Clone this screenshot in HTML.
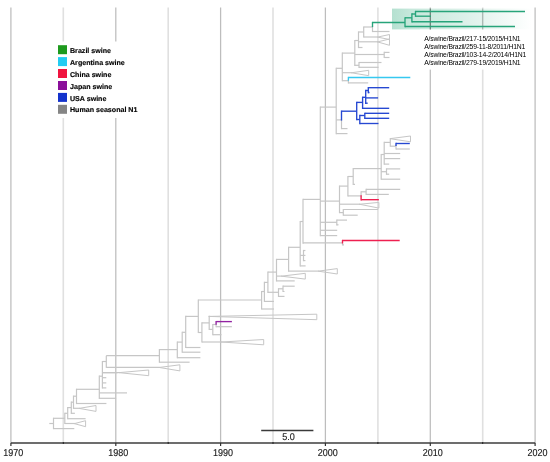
<!DOCTYPE html>
<html><head><meta charset="utf-8"><style>
html,body{margin:0;padding:0;background:#fff;}
svg{display:block;}
text{font-family:"Liberation Sans",Arial,sans-serif;text-rendering:geometricPrecision;}
</style></head><body>
<svg width="550" height="462" viewBox="0 0 550 462">
<defs><linearGradient id="hl" x1="0" x2="1" y1="0" y2="0">
<stop offset="0" stop-color="#2aa87a" stop-opacity="0.35"/><stop offset="0.13" stop-color="#2aa87a" stop-opacity="0.27"/><stop offset="0.5" stop-color="#2aa87a" stop-opacity="0.17"/><stop offset="1" stop-color="#2aa87a" stop-opacity="0"/></linearGradient></defs>
<rect width="550" height="462" fill="#fff"/>
<line x1="10.9" y1="7.5" x2="10.9" y2="443" stroke="#bdbdbd" stroke-width="1.25"/>
<line x1="63.3" y1="7.5" x2="63.3" y2="443" stroke="#e0e0e0" stroke-width="1.6"/>
<line x1="115.8" y1="7.5" x2="115.8" y2="443" stroke="#bdbdbd" stroke-width="1.25"/>
<line x1="168.2" y1="7.5" x2="168.2" y2="443" stroke="#e0e0e0" stroke-width="1.6"/>
<line x1="220.6" y1="7.5" x2="220.6" y2="443" stroke="#bdbdbd" stroke-width="1.25"/>
<line x1="273.0" y1="7.5" x2="273.0" y2="443" stroke="#e0e0e0" stroke-width="1.6"/>
<line x1="325.4" y1="7.5" x2="325.4" y2="443" stroke="#bdbdbd" stroke-width="1.25"/>
<line x1="377.9" y1="7.5" x2="377.9" y2="443" stroke="#e0e0e0" stroke-width="1.6"/>
<line x1="430.3" y1="7.5" x2="430.3" y2="443" stroke="#bdbdbd" stroke-width="1.25"/>
<line x1="482.7" y1="7.5" x2="482.7" y2="443" stroke="#e0e0e0" stroke-width="1.6"/>
<line x1="535.1" y1="7.5" x2="535.1" y2="443" stroke="#bdbdbd" stroke-width="1.25"/>
<rect x="392" y="8.6" width="140" height="20.8" fill="url(#hl)"/>
<rect x="420" y="29.6" width="111" height="40" fill="#fff"/>
<line x1="430.3" y1="8.6" x2="430.3" y2="29.4" stroke="#5f6f68" stroke-width="1" opacity="0.85"/>
<line x1="482.7" y1="8.6" x2="482.7" y2="29.4" stroke="#5f6f68" stroke-width="1" opacity="0.35"/>
<rect x="55" y="41.5" width="85" height="76.5" fill="#fff"/>
<g fill="none" stroke-linecap="square">
<line x1="49.3" y1="423.5" x2="53.5" y2="423.5" stroke="#c6c6c6" stroke-width="1.2" stroke-linecap="butt"/>
<line x1="53.5" y1="418.3" x2="53.5" y2="428.6" stroke="#c6c6c6" stroke-width="1.2"/>
<line x1="53.5" y1="428.6" x2="74.3" y2="428.6" stroke="#c6c6c6" stroke-width="1.2" stroke-linecap="butt"/>
<line x1="53.5" y1="418.3" x2="64.8" y2="418.3" stroke="#c6c6c6" stroke-width="1.2" stroke-linecap="butt"/>
<line x1="64.8" y1="413.3" x2="64.8" y2="423.5" stroke="#c6c6c6" stroke-width="1.2"/>
<line x1="64.8" y1="423.5" x2="74.9" y2="423.5" stroke="#c6c6c6" stroke-width="1.2" stroke-linecap="butt"/>
<polygon points="74.9,423.5 85.6,420.7 85.6,426.2" fill="none" stroke="#c6c6c6" stroke-width="1"/>
<line x1="64.8" y1="413.3" x2="67.7" y2="413.3" stroke="#c6c6c6" stroke-width="1.2" stroke-linecap="butt"/>
<line x1="67.7" y1="407.6" x2="67.7" y2="418.7" stroke="#c6c6c6" stroke-width="1.2"/>
<line x1="67.7" y1="418.7" x2="85.6" y2="418.7" stroke="#c6c6c6" stroke-width="1.2" stroke-linecap="butt"/>
<line x1="67.7" y1="407.6" x2="71.3" y2="407.6" stroke="#c6c6c6" stroke-width="1.2" stroke-linecap="butt"/>
<line x1="71.3" y1="402.2" x2="71.3" y2="413.3" stroke="#c6c6c6" stroke-width="1.2"/>
<line x1="71.3" y1="413.3" x2="74.9" y2="413.3" stroke="#c6c6c6" stroke-width="1.2" stroke-linecap="butt"/>
<line x1="71.3" y1="402.2" x2="73.5" y2="402.2" stroke="#c6c6c6" stroke-width="1.2" stroke-linecap="butt"/>
<line x1="73.5" y1="396.2" x2="73.5" y2="408.3" stroke="#c6c6c6" stroke-width="1.2"/>
<line x1="73.5" y1="408.3" x2="79.7" y2="408.3" stroke="#c6c6c6" stroke-width="1.2" stroke-linecap="butt"/>
<polygon points="79.7,408.3 96.0,405.5 96.0,410.9" fill="none" stroke="#c6c6c6" stroke-width="1"/>
<line x1="73.5" y1="396.2" x2="76.5" y2="396.2" stroke="#c6c6c6" stroke-width="1.2" stroke-linecap="butt"/>
<line x1="76.5" y1="389.3" x2="76.5" y2="403.5" stroke="#c6c6c6" stroke-width="1.2"/>
<line x1="76.5" y1="403.5" x2="106.4" y2="403.5" stroke="#c6c6c6" stroke-width="1.2" stroke-linecap="butt"/>
<line x1="76.5" y1="389.3" x2="99.3" y2="389.3" stroke="#c6c6c6" stroke-width="1.2" stroke-linecap="butt"/>
<line x1="99.3" y1="376.2" x2="99.3" y2="398.3" stroke="#c6c6c6" stroke-width="1.2"/>
<line x1="99.3" y1="398.3" x2="116.1" y2="398.3" stroke="#c6c6c6" stroke-width="1.2" stroke-linecap="butt"/>
<line x1="99.3" y1="392.9" x2="127.0" y2="392.9" stroke="#c6c6c6" stroke-width="1.2" stroke-linecap="butt"/>
<line x1="99.3" y1="376.2" x2="102.4" y2="376.2" stroke="#c6c6c6" stroke-width="1.2" stroke-linecap="butt"/>
<line x1="102.4" y1="361.5" x2="102.4" y2="387.9" stroke="#c6c6c6" stroke-width="1.2"/>
<line x1="102.4" y1="361.5" x2="106.3" y2="361.5" stroke="#c6c6c6" stroke-width="1.2" stroke-linecap="butt"/>
<line x1="106.3" y1="356.3" x2="106.3" y2="367.1" stroke="#c6c6c6" stroke-width="1.2"/>
<line x1="102.4" y1="377.7" x2="106.3" y2="377.7" stroke="#c6c6c6" stroke-width="1.2" stroke-linecap="butt"/>
<line x1="102.4" y1="382.9" x2="106.3" y2="382.9" stroke="#c6c6c6" stroke-width="1.2" stroke-linecap="butt"/>
<line x1="102.4" y1="387.9" x2="106.3" y2="387.9" stroke="#c6c6c6" stroke-width="1.2" stroke-linecap="butt"/>
<line x1="102.4" y1="372.7" x2="117.5" y2="372.7" stroke="#c6c6c6" stroke-width="1.2" stroke-linecap="butt"/>
<line x1="106.2" y1="355.7" x2="159.4" y2="355.7" stroke="#c6c6c6" stroke-width="1.2" stroke-linecap="butt"/>
<line x1="106.2" y1="367.4" x2="159.7" y2="367.4" stroke="#c6c6c6" stroke-width="1.2" stroke-linecap="butt"/>
<polygon points="159.7,367.4 179.9,364.8 179.9,370.4" fill="none" stroke="#c6c6c6" stroke-width="1"/>
<line x1="102.4" y1="372.6" x2="119.5" y2="372.6" stroke="#c6c6c6" stroke-width="1.2" stroke-linecap="butt"/>
<polygon points="119.5,372.6 148.7,370.0 148.7,375.2" fill="none" stroke="#c6c6c6" stroke-width="1"/>
<line x1="159.4" y1="349.6" x2="159.4" y2="362.2" stroke="#c6c6c6" stroke-width="1.2"/>
<line x1="159.4" y1="362.2" x2="189.6" y2="362.2" stroke="#c6c6c6" stroke-width="1.2" stroke-linecap="butt"/>
<line x1="159.4" y1="349.6" x2="177.3" y2="349.6" stroke="#c6c6c6" stroke-width="1.2" stroke-linecap="butt"/>
<line x1="177.3" y1="342.1" x2="177.3" y2="357.7" stroke="#c6c6c6" stroke-width="1.2"/>
<line x1="177.3" y1="357.7" x2="200.4" y2="357.7" stroke="#c6c6c6" stroke-width="1.2" stroke-linecap="butt"/>
<line x1="177.3" y1="342.1" x2="182.2" y2="342.1" stroke="#c6c6c6" stroke-width="1.2" stroke-linecap="butt"/>
<line x1="182.2" y1="332.3" x2="182.2" y2="352.2" stroke="#c6c6c6" stroke-width="1.2"/>
<line x1="182.2" y1="352.2" x2="200.4" y2="352.2" stroke="#c6c6c6" stroke-width="1.2" stroke-linecap="butt"/>
<line x1="182.2" y1="332.3" x2="185.7" y2="332.3" stroke="#c6c6c6" stroke-width="1.2" stroke-linecap="butt"/>
<line x1="185.7" y1="316.4" x2="185.7" y2="347.5" stroke="#c6c6c6" stroke-width="1.2"/>
<line x1="185.7" y1="347.5" x2="200.4" y2="347.5" stroke="#c6c6c6" stroke-width="1.2" stroke-linecap="butt"/>
<line x1="185.7" y1="316.4" x2="198.3" y2="316.4" stroke="#c6c6c6" stroke-width="1.2" stroke-linecap="butt"/>
<line x1="198.3" y1="300.0" x2="198.3" y2="332.5" stroke="#c6c6c6" stroke-width="1.2"/>
<line x1="198.3" y1="300.0" x2="261.8" y2="300.0" stroke="#c6c6c6" stroke-width="1.2" stroke-linecap="butt"/>
<line x1="198.3" y1="332.5" x2="201.9" y2="332.5" stroke="#c6c6c6" stroke-width="1.2" stroke-linecap="butt"/>
<line x1="201.9" y1="322.9" x2="201.9" y2="342.0" stroke="#c6c6c6" stroke-width="1.2"/>
<line x1="201.9" y1="342.0" x2="222.0" y2="342.0" stroke="#c6c6c6" stroke-width="1.2" stroke-linecap="butt"/>
<polygon points="222.0,342.0 263.7,339.5 263.7,344.3" fill="none" stroke="#c6c6c6" stroke-width="1"/>
<line x1="201.9" y1="322.9" x2="209.2" y2="322.9" stroke="#c6c6c6" stroke-width="1.2" stroke-linecap="butt"/>
<line x1="209.2" y1="316.4" x2="209.2" y2="329.4" stroke="#c6c6c6" stroke-width="1.2"/>
<polygon points="209.2,316.4 316.8,314.2 316.8,319.2" fill="none" stroke="#c6c6c6" stroke-width="1"/>
<line x1="209.2" y1="329.4" x2="212.8" y2="329.4" stroke="#c6c6c6" stroke-width="1.2" stroke-linecap="butt"/>
<line x1="212.8" y1="324.5" x2="212.8" y2="334.7" stroke="#c6c6c6" stroke-width="1.2"/>
<line x1="212.8" y1="334.7" x2="221.5" y2="334.7" stroke="#c6c6c6" stroke-width="1.2" stroke-linecap="butt"/>
<line x1="212.8" y1="324.5" x2="216.1" y2="324.5" stroke="#c6c6c6" stroke-width="1.2" stroke-linecap="butt"/>
<line x1="216.1" y1="324.0" x2="216.1" y2="326.7" stroke="#c6c6c6" stroke-width="1.2"/>
<line x1="216.1" y1="326.7" x2="231.9" y2="326.7" stroke="#c6c6c6" stroke-width="1.2" stroke-linecap="butt"/>
<line x1="261.6" y1="291.5" x2="261.6" y2="309.0" stroke="#c6c6c6" stroke-width="1.2"/>
<line x1="261.6" y1="309.0" x2="273.9" y2="309.0" stroke="#c6c6c6" stroke-width="1.2" stroke-linecap="butt"/>
<line x1="261.6" y1="291.5" x2="264.4" y2="291.5" stroke="#c6c6c6" stroke-width="1.2" stroke-linecap="butt"/>
<line x1="264.4" y1="282.4" x2="264.4" y2="301.4" stroke="#c6c6c6" stroke-width="1.2"/>
<line x1="264.4" y1="301.4" x2="273.9" y2="301.4" stroke="#c6c6c6" stroke-width="1.2" stroke-linecap="butt"/>
<line x1="264.4" y1="282.4" x2="267.9" y2="282.4" stroke="#c6c6c6" stroke-width="1.2" stroke-linecap="butt"/>
<line x1="267.9" y1="272.1" x2="267.9" y2="292.3" stroke="#c6c6c6" stroke-width="1.2"/>
<line x1="267.9" y1="292.3" x2="278.5" y2="292.3" stroke="#c6c6c6" stroke-width="1.2" stroke-linecap="butt"/>
<line x1="278.5" y1="288.8" x2="278.5" y2="296.4" stroke="#c6c6c6" stroke-width="1.2"/>
<line x1="278.5" y1="296.4" x2="284.5" y2="296.4" stroke="#c6c6c6" stroke-width="1.2" stroke-linecap="butt"/>
<line x1="278.5" y1="288.8" x2="283.0" y2="288.8" stroke="#c6c6c6" stroke-width="1.2" stroke-linecap="butt"/>
<line x1="283.0" y1="286.2" x2="283.0" y2="291.5" stroke="#c6c6c6" stroke-width="1.2"/>
<line x1="283.0" y1="286.2" x2="294.7" y2="286.2" stroke="#c6c6c6" stroke-width="1.2" stroke-linecap="butt"/>
<line x1="283.0" y1="291.5" x2="284.5" y2="291.5" stroke="#c6c6c6" stroke-width="1.2" stroke-linecap="butt"/>
<line x1="267.9" y1="272.1" x2="276.5" y2="272.1" stroke="#c6c6c6" stroke-width="1.2" stroke-linecap="butt"/>
<line x1="276.5" y1="259.4" x2="276.5" y2="280.9" stroke="#c6c6c6" stroke-width="1.2"/>
<line x1="276.5" y1="280.9" x2="294.7" y2="280.9" stroke="#c6c6c6" stroke-width="1.2" stroke-linecap="butt"/>
<line x1="276.5" y1="276.1" x2="282.0" y2="276.1" stroke="#c6c6c6" stroke-width="1.2" stroke-linecap="butt"/>
<polygon points="282.0,276.1 305.3,273.3 305.3,278.6" fill="none" stroke="#c6c6c6" stroke-width="1"/>
<line x1="276.5" y1="259.4" x2="288.6" y2="259.4" stroke="#c6c6c6" stroke-width="1.2" stroke-linecap="butt"/>
<line x1="288.6" y1="247.3" x2="288.6" y2="271.1" stroke="#c6c6c6" stroke-width="1.2"/>
<line x1="288.6" y1="247.3" x2="300.2" y2="247.3" stroke="#c6c6c6" stroke-width="1.2" stroke-linecap="butt"/>
<line x1="300.2" y1="265.9" x2="305.6" y2="265.9" stroke="#c6c6c6" stroke-width="1.2" stroke-linecap="butt"/>
<line x1="300.2" y1="255.4" x2="303.5" y2="255.4" stroke="#c6c6c6" stroke-width="1.2" stroke-linecap="butt"/>
<line x1="303.5" y1="250.5" x2="303.5" y2="260.6" stroke="#c6c6c6" stroke-width="1.2"/>
<line x1="303.5" y1="250.5" x2="305.4" y2="250.5" stroke="#c6c6c6" stroke-width="1.2" stroke-linecap="butt"/>
<line x1="303.5" y1="255.4" x2="305.4" y2="255.4" stroke="#c6c6c6" stroke-width="1.2" stroke-linecap="butt"/>
<line x1="303.5" y1="260.6" x2="305.4" y2="260.6" stroke="#c6c6c6" stroke-width="1.2" stroke-linecap="butt"/>
<line x1="288.6" y1="271.1" x2="318.8" y2="271.1" stroke="#c6c6c6" stroke-width="1.2" stroke-linecap="butt"/>
<polygon points="318.8,271.1 337.3,268.6 337.3,273.5" fill="none" stroke="#c6c6c6" stroke-width="1"/>
<line x1="300.2" y1="221.5" x2="300.2" y2="265.9" stroke="#c6c6c6" stroke-width="1.2"/>
<line x1="300.2" y1="221.5" x2="303.0" y2="221.5" stroke="#c6c6c6" stroke-width="1.2" stroke-linecap="butt"/>
<line x1="303.0" y1="199.4" x2="303.0" y2="243.1" stroke="#c6c6c6" stroke-width="1.2"/>
<line x1="303.0" y1="242.8" x2="342.5" y2="242.8" stroke="#c6c6c6" stroke-width="1.2" stroke-linecap="butt"/>
<line x1="303.0" y1="199.4" x2="320.3" y2="199.4" stroke="#c6c6c6" stroke-width="1.2" stroke-linecap="butt"/>
<line x1="320.3" y1="235.6" x2="337.2" y2="235.6" stroke="#c6c6c6" stroke-width="1.2" stroke-linecap="butt"/>
<line x1="320.3" y1="230.3" x2="337.2" y2="230.3" stroke="#c6c6c6" stroke-width="1.2" stroke-linecap="butt"/>
<line x1="320.3" y1="222.3" x2="336.8" y2="222.3" stroke="#c6c6c6" stroke-width="1.2" stroke-linecap="butt"/>
<line x1="336.8" y1="220.1" x2="336.8" y2="224.8" stroke="#c6c6c6" stroke-width="1.2"/>
<line x1="336.8" y1="220.1" x2="347.0" y2="220.1" stroke="#c6c6c6" stroke-width="1.2" stroke-linecap="butt"/>
<line x1="336.8" y1="224.8" x2="338.5" y2="224.8" stroke="#c6c6c6" stroke-width="1.2" stroke-linecap="butt"/>
<line x1="320.3" y1="201.1" x2="339.6" y2="201.1" stroke="#c6c6c6" stroke-width="1.2" stroke-linecap="butt"/>
<line x1="339.5" y1="186.1" x2="339.5" y2="212.6" stroke="#c6c6c6" stroke-width="1.2"/>
<line x1="339.5" y1="212.6" x2="343.3" y2="212.6" stroke="#c6c6c6" stroke-width="1.2" stroke-linecap="butt"/>
<line x1="343.3" y1="209.5" x2="343.3" y2="215.2" stroke="#c6c6c6" stroke-width="1.2"/>
<line x1="343.3" y1="209.5" x2="378.2" y2="209.5" stroke="#c6c6c6" stroke-width="1.2" stroke-linecap="butt"/>
<line x1="343.3" y1="215.2" x2="357.7" y2="215.2" stroke="#c6c6c6" stroke-width="1.2" stroke-linecap="butt"/>
<line x1="339.5" y1="204.2" x2="360.0" y2="204.2" stroke="#c6c6c6" stroke-width="1.2" stroke-linecap="butt"/>
<polygon points="360.0,204.2 378.9,202.4 378.9,207.6" fill="none" stroke="#c6c6c6" stroke-width="1"/>
<line x1="339.5" y1="186.1" x2="347.9" y2="186.1" stroke="#c6c6c6" stroke-width="1.2" stroke-linecap="butt"/>
<line x1="347.9" y1="176.5" x2="347.9" y2="195.9" stroke="#c6c6c6" stroke-width="1.2"/>
<line x1="347.9" y1="195.9" x2="361.1" y2="195.9" stroke="#c6c6c6" stroke-width="1.2" stroke-linecap="butt"/>
<line x1="361.1" y1="191.8" x2="361.1" y2="195.9" stroke="#c6c6c6" stroke-width="1.2"/>
<line x1="361.1" y1="191.8" x2="366.1" y2="191.8" stroke="#c6c6c6" stroke-width="1.2" stroke-linecap="butt"/>
<line x1="366.1" y1="189.4" x2="366.1" y2="194.4" stroke="#c6c6c6" stroke-width="1.2"/>
<line x1="366.1" y1="189.4" x2="400.2" y2="189.4" stroke="#c6c6c6" stroke-width="1.2" stroke-linecap="butt"/>
<line x1="366.1" y1="194.4" x2="388.8" y2="194.4" stroke="#c6c6c6" stroke-width="1.2" stroke-linecap="butt"/>
<line x1="342.5" y1="242.8" x2="342.5" y2="244.8" stroke="#c6c6c6" stroke-width="1.2"/>
<line x1="342.5" y1="244.8" x2="344.0" y2="244.8" stroke="#c6c6c6" stroke-width="1.2" stroke-linecap="butt"/>
<line x1="347.9" y1="176.5" x2="353.2" y2="176.5" stroke="#c6c6c6" stroke-width="1.2" stroke-linecap="butt"/>
<line x1="353.2" y1="168.6" x2="353.2" y2="184.4" stroke="#c6c6c6" stroke-width="1.2"/>
<line x1="353.2" y1="184.4" x2="355.0" y2="184.4" stroke="#c6c6c6" stroke-width="1.2" stroke-linecap="butt"/>
<line x1="353.2" y1="168.6" x2="381.2" y2="168.6" stroke="#c6c6c6" stroke-width="1.2" stroke-linecap="butt"/>
<line x1="381.2" y1="154.5" x2="381.2" y2="179.2" stroke="#c6c6c6" stroke-width="1.2"/>
<line x1="381.2" y1="179.2" x2="400.2" y2="179.2" stroke="#c6c6c6" stroke-width="1.2" stroke-linecap="butt"/>
<line x1="381.2" y1="171.7" x2="386.5" y2="171.7" stroke="#c6c6c6" stroke-width="1.2" stroke-linecap="butt"/>
<line x1="386.5" y1="168.9" x2="386.5" y2="174.2" stroke="#c6c6c6" stroke-width="1.2"/>
<line x1="386.5" y1="168.9" x2="400.2" y2="168.9" stroke="#c6c6c6" stroke-width="1.2" stroke-linecap="butt"/>
<line x1="386.5" y1="174.2" x2="389.2" y2="174.2" stroke="#c6c6c6" stroke-width="1.2" stroke-linecap="butt"/>
<line x1="381.2" y1="154.5" x2="384.2" y2="154.5" stroke="#c6c6c6" stroke-width="1.2" stroke-linecap="butt"/>
<line x1="384.2" y1="142.4" x2="384.2" y2="164.1" stroke="#c6c6c6" stroke-width="1.2"/>
<line x1="384.2" y1="164.1" x2="389.2" y2="164.1" stroke="#c6c6c6" stroke-width="1.2" stroke-linecap="butt"/>
<line x1="384.2" y1="158.6" x2="400.2" y2="158.6" stroke="#c6c6c6" stroke-width="1.2" stroke-linecap="butt"/>
<line x1="384.2" y1="153.5" x2="400.2" y2="153.5" stroke="#c6c6c6" stroke-width="1.2" stroke-linecap="butt"/>
<line x1="384.2" y1="142.4" x2="390.3" y2="142.4" stroke="#c6c6c6" stroke-width="1.2" stroke-linecap="butt"/>
<line x1="390.3" y1="138.6" x2="390.3" y2="146.2" stroke="#c6c6c6" stroke-width="1.2"/>
<polygon points="390.5,138.6 410.5,136.0 410.5,141.3" fill="none" stroke="#c6c6c6" stroke-width="1"/>
<line x1="390.3" y1="146.2" x2="396.0" y2="146.2" stroke="#c6c6c6" stroke-width="1.2" stroke-linecap="butt"/>
<line x1="396.0" y1="145.2" x2="396.0" y2="149.0" stroke="#c6c6c6" stroke-width="1.2"/>
<line x1="396.0" y1="149.0" x2="409.8" y2="149.0" stroke="#c6c6c6" stroke-width="1.2" stroke-linecap="butt"/>
<line x1="320.3" y1="107.1" x2="320.3" y2="235.6" stroke="#c6c6c6" stroke-width="1.2"/>
<line x1="320.3" y1="107.1" x2="336.2" y2="107.1" stroke="#c6c6c6" stroke-width="1.2" stroke-linecap="butt"/>
<line x1="336.2" y1="68.3" x2="336.2" y2="133.6" stroke="#c6c6c6" stroke-width="1.2"/>
<line x1="336.2" y1="133.6" x2="347.5" y2="133.6" stroke="#c6c6c6" stroke-width="1.2" stroke-linecap="butt"/>
<line x1="336.2" y1="68.3" x2="342.1" y2="68.3" stroke="#c6c6c6" stroke-width="1.2" stroke-linecap="butt"/>
<line x1="336.2" y1="119.9" x2="341.5" y2="119.9" stroke="#c6c6c6" stroke-width="1.2" stroke-linecap="butt"/>
<line x1="341.5" y1="119.9" x2="341.5" y2="128.6" stroke="#c6c6c6" stroke-width="1.2"/>
<line x1="341.5" y1="128.6" x2="347.5" y2="128.6" stroke="#c6c6c6" stroke-width="1.2" stroke-linecap="butt"/>
<line x1="342.3" y1="53.1" x2="342.3" y2="80.7" stroke="#c6c6c6" stroke-width="1.2"/>
<line x1="342.3" y1="53.1" x2="354.8" y2="53.1" stroke="#c6c6c6" stroke-width="1.2" stroke-linecap="butt"/>
<line x1="354.8" y1="40.5" x2="354.8" y2="65.3" stroke="#c6c6c6" stroke-width="1.2"/>
<line x1="354.8" y1="40.5" x2="358.5" y2="40.5" stroke="#c6c6c6" stroke-width="1.2" stroke-linecap="butt"/>
<line x1="354.8" y1="54.5" x2="384.2" y2="54.5" stroke="#c6c6c6" stroke-width="1.2" stroke-linecap="butt"/>
<line x1="384.2" y1="52.4" x2="384.2" y2="57.5" stroke="#c6c6c6" stroke-width="1.2"/>
<line x1="384.2" y1="52.4" x2="389.5" y2="52.4" stroke="#c6c6c6" stroke-width="1.2" stroke-linecap="butt"/>
<line x1="384.2" y1="57.5" x2="389.5" y2="57.5" stroke="#c6c6c6" stroke-width="1.2" stroke-linecap="butt"/>
<line x1="354.8" y1="65.3" x2="359.0" y2="65.3" stroke="#c6c6c6" stroke-width="1.2" stroke-linecap="butt"/>
<line x1="359.0" y1="62.5" x2="359.0" y2="67.3" stroke="#c6c6c6" stroke-width="1.2"/>
<line x1="359.0" y1="62.5" x2="381.5" y2="62.5" stroke="#c6c6c6" stroke-width="1.2" stroke-linecap="butt"/>
<line x1="359.0" y1="67.3" x2="378.6" y2="67.3" stroke="#c6c6c6" stroke-width="1.2" stroke-linecap="butt"/>
<line x1="342.3" y1="72.7" x2="352.0" y2="72.7" stroke="#c6c6c6" stroke-width="1.2" stroke-linecap="butt"/>
<polygon points="352.0,72.7 368.7,70.3 368.7,75.2" fill="none" stroke="#c6c6c6" stroke-width="1"/>
<line x1="342.3" y1="80.7" x2="348.4" y2="80.7" stroke="#c6c6c6" stroke-width="1.2" stroke-linecap="butt"/>
<line x1="348.4" y1="80.0" x2="348.4" y2="82.9" stroke="#c6c6c6" stroke-width="1.2"/>
<line x1="348.4" y1="82.9" x2="368.2" y2="82.9" stroke="#c6c6c6" stroke-width="1.2" stroke-linecap="butt"/>
<line x1="358.5" y1="32.0" x2="358.5" y2="47.5" stroke="#c6c6c6" stroke-width="1.2"/>
<line x1="358.5" y1="32.0" x2="363.7" y2="32.0" stroke="#c6c6c6" stroke-width="1.2" stroke-linecap="butt"/>
<line x1="363.7" y1="27.0" x2="363.7" y2="37.0" stroke="#c6c6c6" stroke-width="1.2"/>
<line x1="363.7" y1="37.0" x2="378.0" y2="37.0" stroke="#c6c6c6" stroke-width="1.2" stroke-linecap="butt"/>
<polygon points="378.0,37.0 389.5,34.5 389.5,39.0" fill="none" stroke="#c6c6c6" stroke-width="1"/>
<line x1="358.5" y1="41.8" x2="378.0" y2="41.8" stroke="#c6c6c6" stroke-width="1.2" stroke-linecap="butt"/>
<polygon points="378.0,41.8 389.5,39.0 389.5,44.8" fill="none" stroke="#c6c6c6" stroke-width="1"/>
<line x1="358.5" y1="47.5" x2="362.5" y2="47.5" stroke="#c6c6c6" stroke-width="1.2" stroke-linecap="butt"/>
<line x1="363.7" y1="27.0" x2="372.5" y2="27.0" stroke="#c6c6c6" stroke-width="1.2" stroke-linecap="butt"/>
<line x1="372.5" y1="26.5" x2="372.5" y2="31.5" stroke="#c6c6c6" stroke-width="1.2"/>
<line x1="372.5" y1="31.5" x2="389.5" y2="31.5" stroke="#c6c6c6" stroke-width="1.2" stroke-linecap="butt"/>
<line x1="216.1" y1="321.6" x2="216.1" y2="324.0" stroke="#9222a2" stroke-width="1.35"/>
<line x1="216.1" y1="321.6" x2="231.9" y2="321.6" stroke="#9222a2" stroke-width="1.35" stroke-linecap="butt"/>
<line x1="361.1" y1="195.9" x2="361.1" y2="199.7" stroke="#ee2050" stroke-width="1.35"/>
<line x1="361.1" y1="199.7" x2="378.9" y2="199.7" stroke="#ee2050" stroke-width="1.35" stroke-linecap="butt"/>
<line x1="342.5" y1="240.5" x2="342.5" y2="242.8" stroke="#ee2050" stroke-width="1.35"/>
<line x1="342.5" y1="240.5" x2="399.7" y2="240.5" stroke="#ee2050" stroke-width="1.35" stroke-linecap="butt"/>
<line x1="396.0" y1="143.5" x2="396.0" y2="145.2" stroke="#2648d2" stroke-width="1.35"/>
<line x1="396.0" y1="143.5" x2="409.8" y2="143.5" stroke="#2648d2" stroke-width="1.35" stroke-linecap="butt"/>
<line x1="341.5" y1="111.2" x2="341.5" y2="119.9" stroke="#2648d2" stroke-width="1.35"/>
<line x1="341.5" y1="111.2" x2="356.7" y2="111.2" stroke="#2648d2" stroke-width="1.35" stroke-linecap="butt"/>
<line x1="356.7" y1="102.4" x2="356.7" y2="119.5" stroke="#2648d2" stroke-width="1.35"/>
<line x1="356.7" y1="102.4" x2="362.6" y2="102.4" stroke="#2648d2" stroke-width="1.35" stroke-linecap="butt"/>
<line x1="362.6" y1="97.3" x2="362.6" y2="108.3" stroke="#2648d2" stroke-width="1.35"/>
<line x1="362.6" y1="108.3" x2="389.2" y2="108.3" stroke="#2648d2" stroke-width="1.35" stroke-linecap="butt"/>
<line x1="362.6" y1="97.3" x2="365.7" y2="97.3" stroke="#2648d2" stroke-width="1.35" stroke-linecap="butt"/>
<line x1="365.7" y1="90.5" x2="365.7" y2="103.2" stroke="#2648d2" stroke-width="1.35"/>
<line x1="365.7" y1="103.2" x2="367.7" y2="103.2" stroke="#2648d2" stroke-width="1.35" stroke-linecap="butt"/>
<line x1="365.7" y1="97.9" x2="378.1" y2="97.9" stroke="#2648d2" stroke-width="1.35" stroke-linecap="butt"/>
<line x1="365.7" y1="90.5" x2="368.3" y2="90.5" stroke="#2648d2" stroke-width="1.35" stroke-linecap="butt"/>
<line x1="368.3" y1="87.7" x2="368.3" y2="92.5" stroke="#2648d2" stroke-width="1.35"/>
<line x1="368.3" y1="87.7" x2="389.2" y2="87.7" stroke="#2648d2" stroke-width="1.35" stroke-linecap="butt"/>
<line x1="368.3" y1="92.5" x2="369.5" y2="92.5" stroke="#2648d2" stroke-width="1.35" stroke-linecap="butt"/>
<line x1="356.7" y1="119.5" x2="359.8" y2="119.5" stroke="#2648d2" stroke-width="1.35" stroke-linecap="butt"/>
<line x1="359.8" y1="115.5" x2="359.8" y2="123.5" stroke="#2648d2" stroke-width="1.35"/>
<line x1="359.8" y1="123.5" x2="378.5" y2="123.5" stroke="#2648d2" stroke-width="1.35" stroke-linecap="butt"/>
<line x1="359.8" y1="115.5" x2="364.8" y2="115.5" stroke="#2648d2" stroke-width="1.35" stroke-linecap="butt"/>
<line x1="364.8" y1="113.3" x2="364.8" y2="118.3" stroke="#2648d2" stroke-width="1.35"/>
<line x1="364.8" y1="113.3" x2="389.2" y2="113.3" stroke="#2648d2" stroke-width="1.35" stroke-linecap="butt"/>
<line x1="364.8" y1="118.3" x2="389.2" y2="118.3" stroke="#2648d2" stroke-width="1.35" stroke-linecap="butt"/>
<line x1="348.4" y1="77.5" x2="348.4" y2="80.0" stroke="#36c8f0" stroke-width="1.35"/>
<line x1="348.4" y1="77.5" x2="410.3" y2="77.5" stroke="#36c8f0" stroke-width="1.35" stroke-linecap="butt"/>
<line x1="372.5" y1="22.5" x2="372.5" y2="26.5" stroke="#27a47a" stroke-width="1.35"/>
<line x1="372.5" y1="22.5" x2="405.0" y2="22.5" stroke="#27a47a" stroke-width="1.35" stroke-linecap="butt"/>
<line x1="405.0" y1="17.8" x2="405.0" y2="26.5" stroke="#27a47a" stroke-width="1.35"/>
<line x1="405.0" y1="17.8" x2="411.9" y2="17.8" stroke="#27a47a" stroke-width="1.35" stroke-linecap="butt"/>
<line x1="411.9" y1="14.0" x2="411.9" y2="21.7" stroke="#27a47a" stroke-width="1.35"/>
<line x1="411.9" y1="21.7" x2="462.5" y2="21.7" stroke="#27a47a" stroke-width="1.35" stroke-linecap="butt"/>
<line x1="411.9" y1="14.0" x2="415.5" y2="14.0" stroke="#27a47a" stroke-width="1.35" stroke-linecap="butt"/>
<line x1="415.5" y1="11.5" x2="415.5" y2="16.2" stroke="#27a47a" stroke-width="1.35"/>
<line x1="415.5" y1="11.5" x2="525.0" y2="11.5" stroke="#27a47a" stroke-width="1.35" stroke-linecap="butt"/>
<line x1="415.5" y1="16.2" x2="431.0" y2="16.2" stroke="#27a47a" stroke-width="1.35" stroke-linecap="butt"/>
<line x1="405.0" y1="26.5" x2="515.0" y2="26.5" stroke="#27a47a" stroke-width="1.35" stroke-linecap="butt"/>
</g>
<line x1="10.9" y1="442.9" x2="535.2" y2="442.9" stroke="#3c3c3c" stroke-width="1.5"/>
<line x1="10.9" y1="443" x2="10.9" y2="446" stroke="#333" stroke-width="1.2"/>
<line x1="115.8" y1="443" x2="115.8" y2="446" stroke="#333" stroke-width="1.2"/>
<line x1="220.6" y1="443" x2="220.6" y2="446" stroke="#333" stroke-width="1.2"/>
<line x1="325.4" y1="443" x2="325.4" y2="446" stroke="#333" stroke-width="1.2"/>
<line x1="430.3" y1="443" x2="430.3" y2="446" stroke="#333" stroke-width="1.2"/>
<line x1="535.1" y1="443" x2="535.1" y2="446" stroke="#333" stroke-width="1.2"/>
<line x1="63.3" y1="442" x2="63.3" y2="444" stroke="#222" stroke-width="1"/>
<line x1="168.2" y1="442" x2="168.2" y2="444" stroke="#222" stroke-width="1"/>
<line x1="273.0" y1="442" x2="273.0" y2="444" stroke="#222" stroke-width="1"/>
<line x1="377.9" y1="442" x2="377.9" y2="444" stroke="#222" stroke-width="1"/>
<line x1="482.7" y1="442" x2="482.7" y2="444" stroke="#222" stroke-width="1"/>
<g font-size="10" fill="#1a1a1a" stroke="#1a1a1a" stroke-width="0.15"><text x="3.3" y="456.4" textLength="20" lengthAdjust="spacingAndGlyphs">1970</text>
<text x="108.2" y="456.4" textLength="20" lengthAdjust="spacingAndGlyphs">1980</text>
<text x="213.0" y="456.4" textLength="20" lengthAdjust="spacingAndGlyphs">1990</text>
<text x="317.8" y="456.4" textLength="20" lengthAdjust="spacingAndGlyphs">2000</text>
<text x="422.7" y="456.4" textLength="20" lengthAdjust="spacingAndGlyphs">2010</text>
<text x="527.5" y="456.4" textLength="20" lengthAdjust="spacingAndGlyphs">2020</text></g>
<g font-size="7.1" font-weight="bold" fill="#000"><rect x="58" y="45.2" width="9" height="9" fill="#1d9a1d"/>
<text x="70" y="52.8" stroke="#000" stroke-width="0.15">Brazil swine</text>
<rect x="58" y="57.1" width="9" height="9" fill="#22ccf2"/>
<text x="70" y="64.7" stroke="#000" stroke-width="0.15">Argentina swine</text>
<rect x="58" y="69.0" width="9" height="9" fill="#f0143f"/>
<text x="70" y="76.6" stroke="#000" stroke-width="0.15">China swine</text>
<rect x="58" y="81.0" width="9" height="9" fill="#8a0f9a"/>
<text x="70" y="88.6" stroke="#000" stroke-width="0.15">Japan swine</text>
<rect x="58" y="92.9" width="9" height="9" fill="#1433cc"/>
<text x="70" y="100.5" stroke="#000" stroke-width="0.15">USA swine</text>
<rect x="58" y="104.8" width="9" height="9" fill="#858585"/>
<text x="70" y="112.4" stroke="#000" stroke-width="0.15">Human seasonal N1</text></g>
<g class="nm" font-size="6.8" fill="#000"><text x="424.2" y="41.3" style="text-rendering:auto;letter-spacing:-0.185px">A/swine/Brazil/217-15/2015/H1N1</text>
<text x="424.2" y="49.3" style="text-rendering:auto;letter-spacing:-0.185px">A/swine/Brazil/259-11-8/2011/H1N1</text>
<text x="424.2" y="57.3" style="text-rendering:auto;letter-spacing:-0.185px">A/swine/Brazil/103-14-2/2014/H1N1</text>
<text x="424.2" y="65.3" style="text-rendering:auto;letter-spacing:-0.185px">A/swine/Brazil/279-19/2019/H1N1</text></g>
<line x1="261.2" y1="430.5" x2="313.4" y2="430.5" stroke="#3a3a3a" stroke-width="1.4"/>
<text x="282.2" y="439.7" font-size="9.8" textLength="12.6" lengthAdjust="spacingAndGlyphs" fill="#222" stroke="#222" stroke-width="0.15">5.0</text>
</svg>
</body></html>
